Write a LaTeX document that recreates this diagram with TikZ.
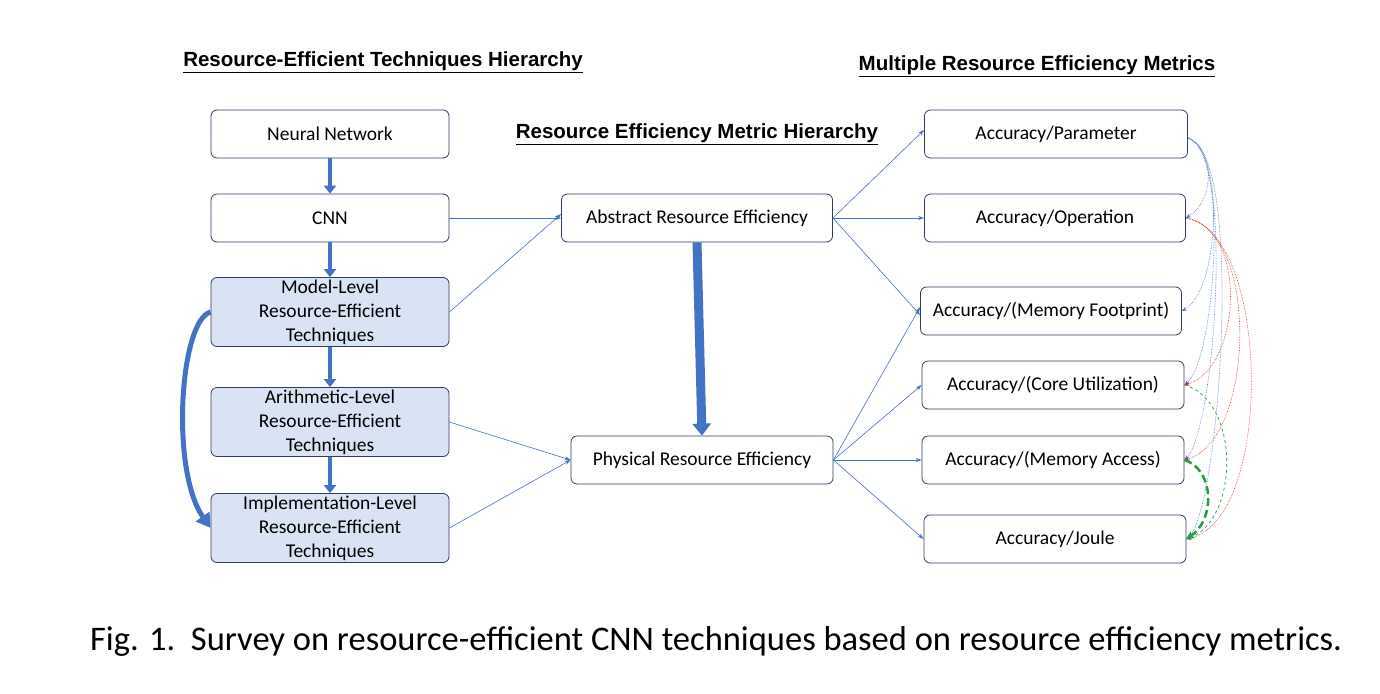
\documentclass[tikz,border=0pt]{standalone}
\usepackage{fontspec}
\setmainfont{Carlito}
\newfontfamily\arialf{Liberation Sans}
\usetikzlibrary{arrows.meta}
\definecolor{bx}{RGB}{47,60,100}
\definecolor{ab}{RGB}{68,114,196}
\definecolor{fillb}{RGB}{218,227,243}
\definecolor{rd}{RGB}{230,40,40}
\definecolor{gr}{RGB}{30,160,70}
\begin{document}
\begin{tikzpicture}[x=1pt,y=-1pt,
 box/.style={draw=bx,rounded corners=6pt,line width=0.8pt,minimum height=48pt,align=center,font=\fontsize{19.5}{24}\selectfont,inner sep=1pt},
 tall/.style={box,minimum height=69pt,fill=fillb,text width=236pt},
 thin/.style={draw=ab,line width=0.6pt,-{Stealth[length=6pt,width=4pt]}},
 fat/.style={draw=ab,line width=4.5pt,-{Triangle[length=8pt,width=12pt]}},
 bd/.style={draw=ab,densely dotted,line width=0.6pt,-{Stealth[length=5pt,width=4pt]}},
 rdd/.style={draw=rd,densely dotted,line width=0.6pt,-{Stealth[length=5pt,width=4pt]}},
 title/.style={font=\arialf\bfseries\fontsize{20.5}{22}\selectfont}]
\useasboundingbox (0,0) rectangle (1380,693);
\fill[white] (0,0) rectangle (1380,693);
\node[title] (t1) at (383,62) {\underline{Resource-Efficient Techniques Hierarchy}};
\node[title] (t2) at (1037,66) {\underline{Multiple Resource Efficiency Metrics}};
\node[title] (t3) at (697,134) {\underline{Resource Efficiency Metric Hierarchy}};
\node[box,minimum width=238pt] (nn) at (330,134) {Neural Network};
\node[box,minimum width=238pt] (cnn) at (330,218) {CNN};
\node[tall] (ml) at (330,312) {Model-Level\\Resource-Efficient\\Techniques};
\node[tall] (al) at (330,422) {Arithmetic-Level\\Resource-Efficient\\Techniques};
\node[tall] (il) at (330,528) {Implementation-Level\\Resource-Efficient\\Techniques};
\node[box,minimum width=271pt] (abs) at (697,218) {Abstract Resource Efficiency};
\node[box,minimum width=262pt] (phy) at (702,460) {Physical Resource Efficiency};
\node[box,minimum width=263pt] (r1) at (1056,134) {Accuracy/Parameter};
\node[box,minimum width=261pt] (r2) at (1055,218) {Accuracy/Operation};
\node[box,minimum width=261pt] (r3) at (1051,311) {Accuracy/(Memory Footprint)};
\node[box,minimum width=262pt] (r4) at (1053,385) {Accuracy/(Core Utilization)};
\node[box,minimum width=262pt] (r5) at (1053,460) {Accuracy/(Memory Access)};
\node[box,minimum width=262pt] (r6) at (1055,539) {Accuracy/Joule};
\node[font=\fontsize{34.5}{40}\selectfont] (cap) at (716,641) {Fig. 1.\ \ Survey on resource-efficient CNN techniques based on resource efficiency metrics.};
% thick arrows
\draw[fat] (nn.south) -- (cnn.north);
\draw[fat] (cnn.south) -- (ml.north);
\draw[fat] (ml.south) -- (al.north);
\draw[fat] (al.south) -- (il.north);
\draw[draw=ab,line width=9pt,-{Triangle[length=12pt,width=18pt]}] (abs.south) -- (phy.north);
\draw[draw=ab,line width=5pt,-{Triangle[length=14pt,width=16pt]}] (ml.west) .. controls (180,320) and (170,470) .. (il.west);
% thin arrows
\draw[thin] (cnn.east) -- (abs.west);
\draw[thin] (ml.east) -- ([yshift=4pt]abs.west);
\draw[thin] (al.east) -- (phy.west);
\draw[thin] (il.east) -- (phy.west);
\draw[thin] (abs.east) -- ([yshift=4pt]r1.west);
\draw[thin] (abs.east) -- (r2.west);
\draw[thin] (abs.east) -- ([yshift=-4pt]r3.west);
\draw[thin] (phy.east) -- ([yshift=4pt]r3.west);
\draw[thin] (phy.east) -- (r4.west);
\draw[thin] (phy.east) -- (r5.west);
\draw[thin] (phy.east) -- (r6.west);
% dotted relations
\draw[bd] ([yshift=-4pt]r1.east) .. controls (1215,150) and (1215,200) .. (r2.east);
\draw[bd] ([yshift=-4pt]r1.east) .. controls (1225,150) and (1220,290) .. (r3.east);
\draw[bd] ([yshift=-4pt]r1.east) .. controls (1230,150) and (1215,360) .. (r4.east);
\draw[bd] ([yshift=-4pt]r1.east) .. controls (1235,150) and (1215,430) .. (r5.east);
\draw[bd] ([yshift=-4pt]r1.east) .. controls (1245,150) and (1220,510) .. (r6.east);
\draw[rdd] (r2.east) .. controls (1250,230) and (1240,370) .. (r4.east);
\draw[rdd] (r2.east) .. controls (1260,230) and (1255,440) .. (r5.east);
\draw[rdd] (r2.east) .. controls (1270,230) and (1275,520) .. (r6.east);
\draw[draw=gr,dashed,line width=0.7pt,-{Stealth[length=5pt,width=4pt]}] (r4.east) .. controls (1240,400) and (1240,520) .. (r6.east);
\draw[draw=gr,dash pattern=on 8pt off 4pt,line width=2.5pt,-{Stealth[length=8pt,width=8pt]}] (r5.east) .. controls (1215,470) and (1215,520) .. (r6.east);
\end{tikzpicture}
\end{document}
